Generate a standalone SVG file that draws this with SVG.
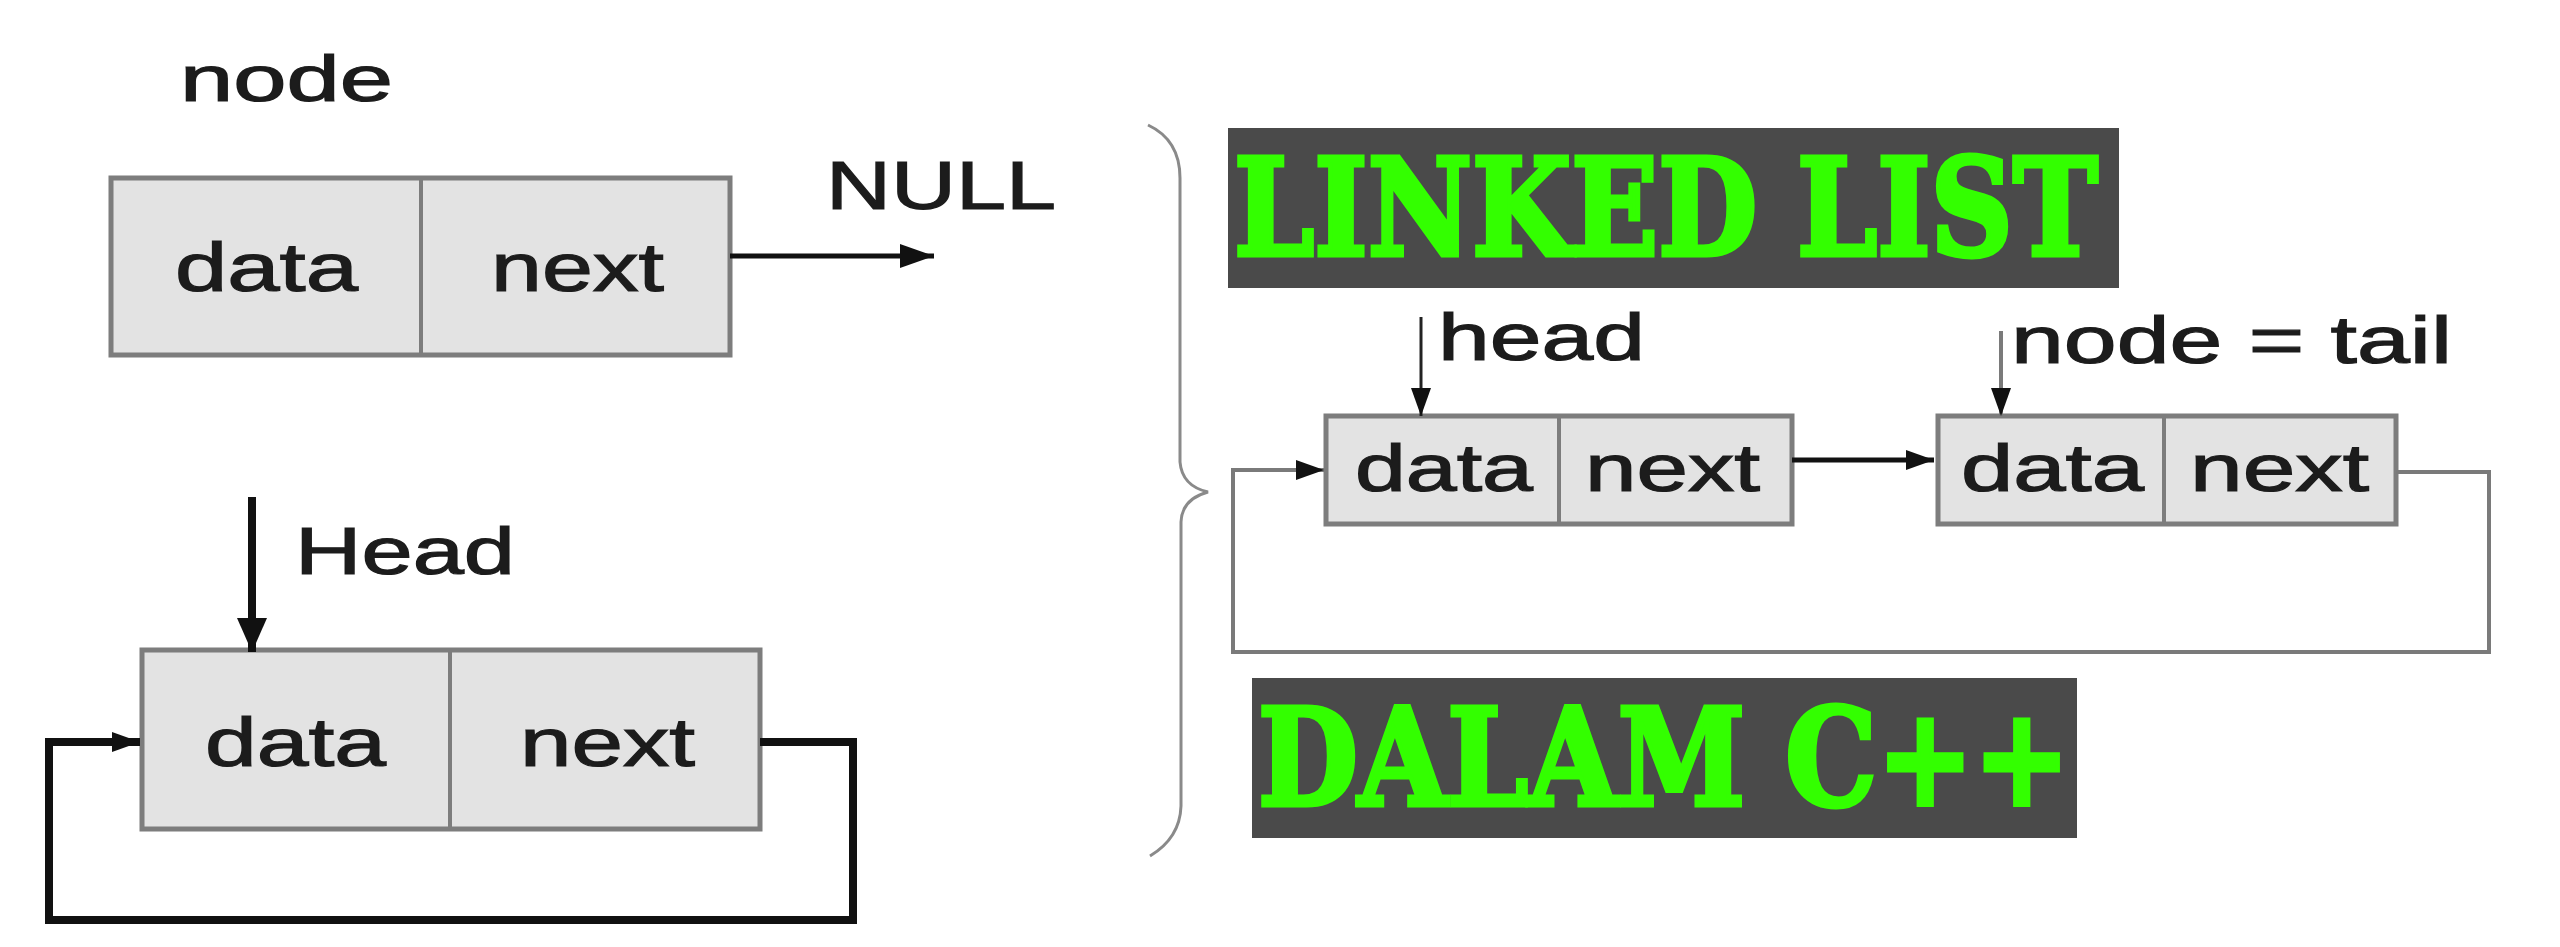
<svg xmlns="http://www.w3.org/2000/svg" width="2560" height="947" viewBox="0 0 2560 947">
  <defs>
    <marker id="arrL" markerUnits="userSpaceOnUse" markerWidth="34" markerHeight="30" refX="34" refY="15" orient="auto">
      <path d="M0,0 L34,15 L0,30 z" fill="#111"/>
    </marker>
    <marker id="arrM" markerUnits="userSpaceOnUse" markerWidth="34" markerHeight="24" refX="34" refY="12" orient="auto">
      <path d="M0,0 L34,12 L0,24 z" fill="#111"/>
    </marker>
    <marker id="arrS" markerUnits="userSpaceOnUse" markerWidth="28" markerHeight="20" refX="28" refY="10" orient="auto">
      <path d="M0,0 L28,10 L0,20 z" fill="#111"/>
    </marker>
  </defs>
  <style>
    .cell { fill: #e3e3e3; stroke: #7d7d7d; stroke-width: 5; }
    .div { stroke: #7d7d7d; stroke-width: 4; }
    .lbl { font-family: "Liberation Sans", Arial, sans-serif; fill: #1c1c1c; stroke: #1c1c1c; stroke-width: 1.2; }
    .big { font-family: "DejaVu Serif", "Liberation Serif", serif; font-weight: bold; fill: #33ff00; stroke: #33ff00; stroke-width: 5; stroke-linejoin: miter; font-size: 134px; }
    .banner { fill: #4a4a4a; }
    .thick { fill: none; stroke: #111; stroke-width: 8; }
    .mid { fill: none; stroke: #111; stroke-width: 5; }
    .thin { fill: none; stroke: #222; stroke-width: 3; }
    .grayline { fill: none; stroke: #7a7a7a; stroke-width: 4; }
    .brace { fill: none; stroke: #8a8a8a; stroke-width: 3; }
  </style>
  <rect width="2560" height="947" fill="#ffffff"/>

  <!-- labels -->
  <text class="lbl" x="180" y="101" font-size="64" textLength="213" lengthAdjust="spacingAndGlyphs">node</text>
  <text class="lbl" x="826" y="209" font-size="68" textLength="230" lengthAdjust="spacingAndGlyphs">NULL</text>
  <text class="lbl" x="295" y="574" font-size="67" textLength="220" lengthAdjust="spacingAndGlyphs">Head</text>
  <text class="lbl" x="1438" y="360" font-size="67" textLength="207" lengthAdjust="spacingAndGlyphs">head</text>
  <text class="lbl" x="2011" y="363" font-size="67" textLength="441" lengthAdjust="spacingAndGlyphs">node = tail</text>

  <!-- node: single -->
  <g id="node-single">
    <rect class="cell" x="111" y="178" width="619" height="177"/>
    <line class="div" x1="421" y1="178" x2="421" y2="355"/>
    <text class="lbl" x="175" y="291" font-size="68" textLength="183" lengthAdjust="spacingAndGlyphs">data</text>
    <text class="lbl" x="491" y="291" font-size="68" textLength="173" lengthAdjust="spacingAndGlyphs">next</text>
  </g>

  <!-- node: circular head -->
  <g id="node-circular">
    <rect class="cell" x="142" y="650" width="618" height="179"/>
    <line class="div" x1="450" y1="650" x2="450" y2="829"/>
    <text class="lbl" x="205" y="766" font-size="68" textLength="181" lengthAdjust="spacingAndGlyphs">data</text>
    <text class="lbl" x="520" y="766" font-size="68" textLength="175" lengthAdjust="spacingAndGlyphs">next</text>
  </g>

  <!-- brace -->
  <g id="brace">
    <path class="brace" d="M1148,125 Q1180,140 1180,178 L1180,462 Q1182,486 1208,492 Q1182,499 1181,522 L1181,806 Q1180,838 1150,856"/>
  </g>

  <!-- banners -->
  <g id="title-linked-list">
    <rect class="banner" x="1228" y="128" width="891" height="160"/>
    <text class="big" x="1234" y="255" textLength="864" lengthAdjust="spacingAndGlyphs">LINKED LIST</text>
  </g>
  <g id="title-dalam">
    <rect class="banner" x="1252" y="678" width="825" height="160"/>
    <text class="big" x="1258" y="805" textLength="812" lengthAdjust="spacingAndGlyphs">DALAM C++</text>
  </g>

  <!-- node: head (right) -->
  <g id="node-head">
    <rect class="cell" x="1326" y="416" width="466" height="108"/>
    <line class="div" x1="1559" y1="416" x2="1559" y2="524"/>
    <text class="lbl" x="1355" y="491" font-size="66" textLength="178" lengthAdjust="spacingAndGlyphs">data</text>
    <text class="lbl" x="1585" y="491" font-size="66" textLength="175" lengthAdjust="spacingAndGlyphs">next</text>
  </g>

  <!-- node: tail (right) -->
  <g id="node-tail">
    <rect class="cell" x="1938" y="416" width="458" height="108"/>
    <line class="div" x1="2164" y1="416" x2="2164" y2="524"/>
    <text class="lbl" x="1961" y="491" font-size="66" textLength="183" lengthAdjust="spacingAndGlyphs">data</text>
    <text class="lbl" x="2190" y="491" font-size="66" textLength="179" lengthAdjust="spacingAndGlyphs">next</text>
  </g>

  <!-- connectors -->
  <g id="connectors">
    <line class="mid" x1="730" y1="256" x2="934" y2="256" marker-end="url(#arrM)"/>
    <line class="thick" x1="252" y1="497" x2="252" y2="652" marker-end="url(#arrL)"/>
    <path class="thick" d="M760,742 L853,742 L853,920 L49,920 L49,742 L140,742" marker-end="url(#arrS)"/>
    <line class="thin" x1="1421" y1="317" x2="1421" y2="416" marker-end="url(#arrS)"/>
    <line class="grayline" x1="2001" y1="331" x2="2001" y2="416" marker-end="url(#arrS)"/>
    <line class="mid" x1="1792" y1="460" x2="1934" y2="460" marker-end="url(#arrS)"/>
    <path class="grayline" d="M2396,472 L2489,472 L2489,652 L1233,652 L1233,470 L1324,470" marker-end="url(#arrS)"/>
  </g>
</svg>
